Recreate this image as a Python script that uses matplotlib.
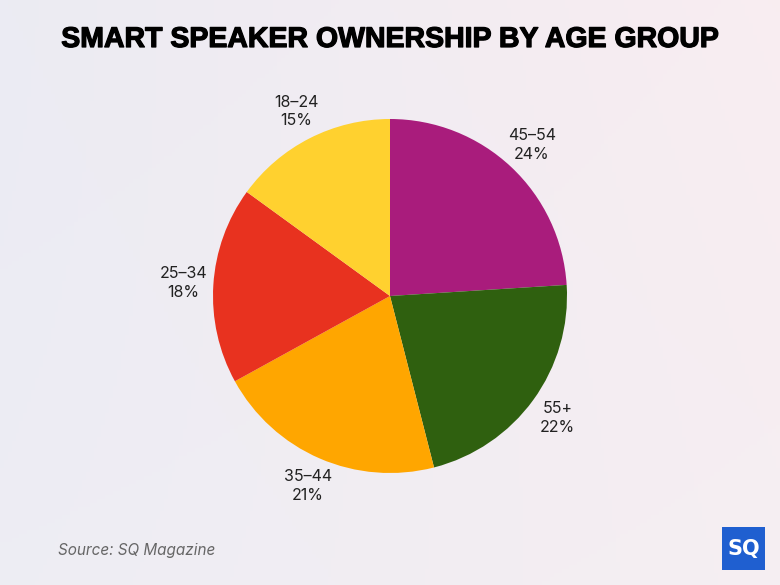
import numpy as np
import matplotlib
matplotlib.use("Agg")
import matplotlib.pyplot as plt
from matplotlib.patches import Rectangle
import matplotlib.patheffects as pe

categories = ["45–54", "55+", "35–44", "25–34", "18–24"]
shares = [24, 22, 21, 18, 15]
colors = ["#A91C7C", "#2F600F", "#FFA600", "#E8321F", "#FFD12F"]
title = "SMART SPEAKER OWNERSHIP BY AGE GROUP"
source = "Source: SQ Magazine"

W, H = 780, 585
fig = plt.figure(figsize=(W / 100, H / 100), dpi=100)

# background gradient
bg = fig.add_axes([0, 0, 1, 1])
bg.set_axis_off()
xs = np.linspace(0, 1, 200)
ys = np.linspace(0, 1, 150)
X, Y = np.meshgrid(xs, ys)
c_left = np.array([0.91, 0.92, 0.955])
c_right = np.array([0.975, 0.93, 0.945])
c_bot = np.array([0.965, 0.945, 0.955])
t = np.clip(X * 0.8 + (1 - Y) * 0.2, 0, 1)[..., None]
img = c_left * (1 - t) + c_right * t
img = img * (1 - 0.4 * (Y[..., None])) + c_bot * 0.4 * (Y[..., None])
bg.imshow(img, extent=[0, 1, 0, 1], aspect="auto", origin="upper")
bg.set_xlim(0, 1)
bg.set_ylim(0, 1)

fig.text(0.5, 1 - 40 / H, title, ha="center", va="center",
         fontsize=20.5, fontweight="bold", family=["Liberation Sans", "DejaVu Sans"],
         color="#000000",
         path_effects=[pe.withStroke(linewidth=0.9, foreground="#000000")])

cx, cy, r = 390, 296, 177
ax = fig.add_axes([(cx - r) / W, (H - cy - r) / H, 2 * r / W, 2 * r / H])
labels = [f"{c}\n{v}%" for c, v in zip(categories, shares)]
wedges, texts = ax.pie(shares, colors=colors, startangle=90, counterclock=False,
                       radius=1, labels=labels, labeldistance=1.17,
                       wedgeprops=dict(linewidth=0),
                       textprops=dict(fontsize=11.5, family=["Inter", "DejaVu Sans"],
                                      color="#222222", linespacing=1.3))
ax.set_xlim(-1, 1)
ax.set_ylim(-1, 1)
ax.set_axis_off()
for tx in texts:
    tx.set_ha("center")
    tx.set_va("center")
    tx.set_clip_on(False)

fig.text(58 / W, 1 - 551 / H, source, ha="left", va="center", fontsize=11,
         style="italic", color="#666666", family=["Inter", "DejaVu Sans"])

logo = fig.add_axes([722 / W, 1 - 570 / H, 43 / W, 43 / H])
logo.set_axis_off()
logo.add_patch(Rectangle((0, 0), 1, 1, color="#1F5FD0"))
logo.text(0.5, 0.48, "SQ", ha="center", va="center", color="white",
          fontsize=15, fontweight="bold", family=["DejaVu Sans"])
logo.set_xlim(0, 1)
logo.set_ylim(0, 1)

fig.savefig("out.png", dpi=100)
